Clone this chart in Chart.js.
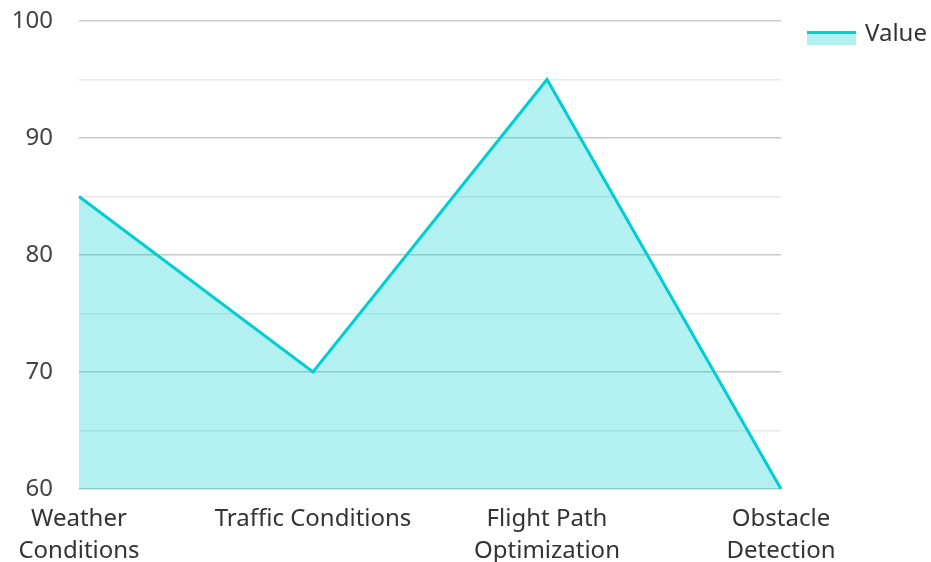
<!DOCTYPE html>
<html lang="en">
<head>
    <meta charset="UTF-8">
    <title>Value by Factor</title>
    <script src="https://cdn.jsdelivr.net/npm/chart.js"></script>
    <style>
        html, body {
            margin: 0;
            padding: 0;
            background: #ffffff;
        }
        .chart-container {
            width: 931px;
            height: 562px;
        }
    </style>
</head>
<body>
    <div class="chart-container">
        <canvas id="areaChart"></canvas>
    </div>

    <script>
        // data
        const categories = [
            ['Weather', 'Conditions'],
            'Traffic Conditions',
            ['Flight Path', 'Optimization'],
            ['Obstacle', 'Detection']
        ];
        const values = [85, 70, 95, 60];
        const seriesName = 'Value';
        const yTicks = [60, 70, 80, 90, 100];

        const lineColor = '#00CED1';
        const fillColor = 'rgba(0, 206, 209, 0.3)';

        // legend swatch: thick line on top of a filled band,
        // drawn on the right part of a wider canvas so it sits away from the plot
        function makeSwatch() {
            const c = document.createElement('canvas');
            c.width = 81;
            c.height = 22;
            const g = c.getContext('2d');
            g.fillStyle = fillColor;
            g.fillRect(30, 8, 49, 14);
            g.fillStyle = lineColor;
            g.fillRect(30, 8, 49, 3);
            return c;
        }

        Chart.defaults.font.family = "'Noto Sans', sans-serif";
        Chart.defaults.font.size = 24;
        Chart.defaults.color = '#333';

        const ctx = document.getElementById('areaChart').getContext('2d');
        const swatch = makeSwatch();

        new Chart(ctx, {
            type: 'line',
            data: {
                labels: categories,
                datasets: [{
                    label: seriesName,
                    data: values,
                    borderColor: lineColor,
                    backgroundColor: fillColor,
                    borderWidth: 3,
                    fill: 'start',
                    tension: 0,
                    pointRadius: 0,
                    pointStyle: swatch
                }]
            },
            options: {
                responsive: true,
                maintainAspectRatio: false,
                animation: false,
                layout: {
                    padding: { top: 21, right: -6, left: 0, bottom: 0 }
                },
                plugins: {
                    legend: {
                        position: 'right',
                        align: 'start',
                        labels: {
                            usePointStyle: true,
                            pointStyleWidth: 71,
                            boxHeight: 14,
                            padding: 1,
                            color: '#333'
                        }
                    },
                    tooltip: { enabled: false }
                },
                scales: {
                    x: {
                        offset: false,
                        grid: { display: false, drawTicks: false },
                        border: { display: false },
                        ticks: {
                            padding: 15,
                            maxRotation: 0,
                            color: '#333',
                            font: { lineHeight: 1.3 }
                        },
                        afterFit: s => {
                            s.height = 73;
                            s.paddingRight = 150;
                        }
                    },
                    y: {
                        min: yTicks[0],
                        max: yTicks[yTicks.length - 1],
                        border: { display: false },
                        grid: {
                            drawTicks: true,
                            tickLength: 26,
                            tickColor: 'rgba(0,0,0,0)',
                            lineWidth: 1.5,
                            color: c => (c.tick && c.tick.value % 10 === 0) ? '#c8c8c8' : '#e8e8e8'
                        },
                        ticks: {
                            stepSize: 5,
                            padding: 0,
                            color: '#444',
                            callback: v => yTicks.includes(v) ? v : ''
                        },
                        afterFit: s => {
                            s.width = 79;
                        }
                    }
                }
            }
        });
    </script>
</body>
</html>
